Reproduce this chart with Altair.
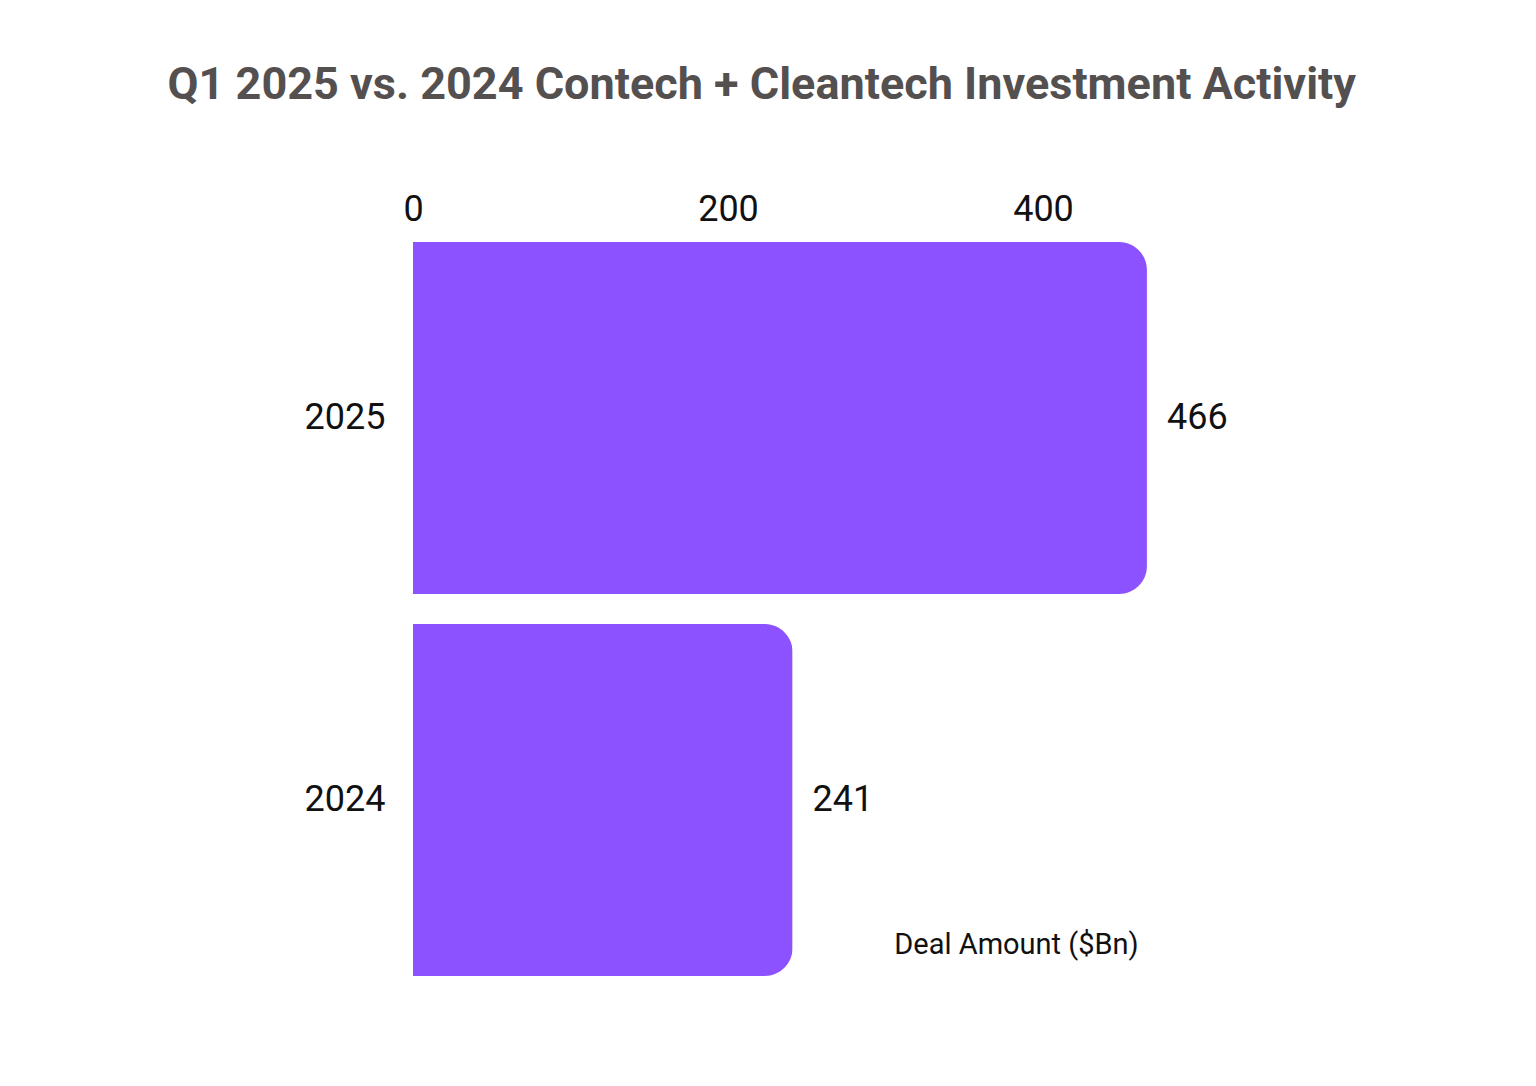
import altair as alt
import pandas as pd

years = ["2025", "2024"]
amounts = [466, 241]
x_ticks = [0, 200, 400]

df = pd.DataFrame({"year": years, "amount": amounts})

FONT = "Roboto"
PURPLE = "#8C52FF"

base = alt.Chart(df)

bars = base.mark_bar(color=PURPLE, cornerRadiusEnd=28).encode(
    y=alt.Y("year:N", sort=years,
            scale=alt.Scale(paddingInner=0.0785, paddingOuter=0),
            axis=alt.Axis(title=None, ticks=False, domain=False, labelFontSize=36,
                          labelColor="#111111", labelFont=FONT, labelPadding=28)),
    x=alt.X("amount:Q", scale=alt.Scale(domain=[0, 500]),
            axis=alt.Axis(orient="top", values=x_ticks, grid=False, ticks=False, domain=False,
                          labelFontSize=36, labelColor="#111111", labelFont=FONT,
                          labelFlush=False, labelPadding=14, title=None)),
)

labels = base.mark_text(align="left", baseline="middle", dx=20, fontSize=36,
                        font=FONT, color="#111111").encode(
    y=alt.Y("year:N", sort=years),
    x=alt.X("amount:Q", axis=None),
    text=alt.Text("amount:Q"),
)

# bottom axis carrying only the "Deal Amount ($Bn)" caption
caption = base.mark_bar(opacity=0).encode(
    x=alt.X("amount:Q",
            axis=alt.Axis(orient="bottom", labels=False, ticks=False, domain=False, grid=False,
                          title="Deal Amount ($Bn)", titleFont=FONT, titleFontSize=29,
                          titleFontWeight="normal", titleColor="#111111",
                          titleX=603, titleY=-32, titleAlign="center", titleBaseline="middle")),
    y=alt.Y("year:N", sort=years),
)

chart = alt.layer(bars, labels, caption).resolve_axis(x="independent").properties(
    width=787.5,
    height=734,
    autosize=alt.AutoSizeParams(type="none"),
    padding={"left": 405, "top": 234, "right": 320, "bottom": 90},
    title=alt.TitleParams(
        "Q1 2025 vs. 2024 Contech + Cleantech Investment Activity",
        font=FONT, fontSize=45, fontWeight="bold", color="#555050",
        anchor="middle", dx=-45, offset=83,
    ),
).configure_view(stroke=None)

chart.save("out.html", embed_options={"renderer": "svg", "actions": False})
